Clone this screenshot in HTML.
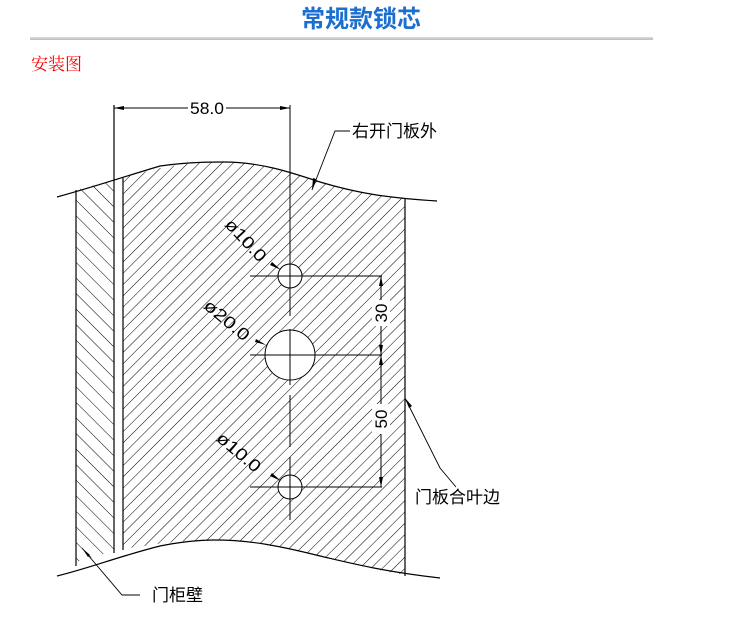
<!DOCTYPE html>
<html><head><meta charset="utf-8"><style>
body{margin:0;background:#fff;width:744px;height:615px;overflow:hidden;font-family:"Liberation Sans","Noto Sans CJK SC",sans-serif}
</style></head><body>
<svg width="744" height="615" viewBox="0 0 744 615" xmlns="http://www.w3.org/2000/svg">
<defs>
<pattern id="hd" patternUnits="userSpaceOnUse" width="8" height="8" patternTransform="rotate(45)">
<line x1="0" y1="0" x2="0" y2="8" stroke="#000" stroke-width="1"/></pattern>
<pattern id="hw" patternUnits="userSpaceOnUse" width="11" height="11" patternTransform="rotate(-45)">
<line x1="0" y1="0" x2="0" y2="11" stroke="#000" stroke-width="1"/></pattern>
<linearGradient id="g" x1="0" y1="0" x2="0" y2="1"><stop offset="0" stop-color="#ddd"/><stop offset="1" stop-color="#bbb"/></linearGradient>
</defs>
<text x="361" y="27" text-anchor="middle" font-size="24" font-weight="bold" fill="#1a6fd0" font-family="'Noto Sans CJK SC',sans-serif">常规款锁芯</text>
<rect x="30" y="37" width="623" height="3" fill="url(#g)"/>
<text x="31" y="70" font-size="17" fill="#f00" font-family="'Noto Serif CJK SC',serif">安装图</text>

<path d="M76 190 L114 180 L114 551 L76 562 Z" fill="url(#hw)"/>
<path d="M123 178 C160 166 190 162 224 162 C260 162 290 172 320 182 C360 194 390 197 405 198 L405 575 C380 571 350 563 320 556 C280 546 250 540 215 540 C180 540 150 545 123 549 Z" fill="url(#hd)"/>
<g stroke="#000" stroke-width="1.2" fill="none">
<path d="M57 197 C90 188 120 178 160 166 C190 162 210 162 224 162 C260 162 290 172 320 182 C360 194 390 198 437 201"/>
<path d="M57 576 C90 568 120 556 160 546 C185 541 200 540 215 540 C250 540 280 546 320 556 C350 563 380 571 440 578"/>
<line x1="76" y1="190" x2="76" y2="566"/>
<line x1="114" y1="105" x2="114" y2="553"/>
<line x1="123" y1="178" x2="123" y2="550"/>
<line x1="405" y1="198" x2="405" y2="576"/>
</g>
<g stroke="#000" stroke-width="1" fill="#fff">
<circle cx="290" cy="276" r="12"/>
<circle cx="290" cy="355" r="25"/>
<circle cx="290" cy="487" r="12"/>
</g>
<g stroke="#000" stroke-width="1">
<line x1="290" y1="105" x2="290" y2="316"/>
<line x1="290" y1="329" x2="290" y2="385"/>
<line x1="290" y1="395" x2="290" y2="447"/>
<line x1="290" y1="457" x2="290" y2="520"/>
<line x1="250" y1="276" x2="382" y2="276"/>
<line x1="250" y1="355" x2="382" y2="355"/>
<line x1="250" y1="487" x2="382" y2="487"/>
<line x1="381" y1="276" x2="381" y2="487"/>
<line x1="114" y1="108" x2="188" y2="108"/>
<line x1="226" y1="108" x2="290" y2="108"/>
</g>
<rect x="372" y="300" width="18" height="26" fill="#fff"/>
<rect x="372" y="404" width="18" height="30" fill="#fff"/>
<g fill="#000">
<path d="M114 108 l10 -2 v4z M290 108 l-10 -2 v4z"/>
<path d="M381 276 l-2 10 h4z M381 355 l-2 -10 h4z M381 355 l-2 10 h4z M381 487 l-2 -10 h4z"/>
<path d="M281 270 l-9 -8 l-2 3z M266 345 l-10 -6 l-1 3z M281 481 l-9 -8 l-2 3z"/>
<path d="M312 190 l1 -12 l3 1z M405 398 l4 10 l3 -2z M82 548 l6 9 l2 -2z"/>
</g>
<g font-size="17" fill="#000" font-family="'Liberation Sans Narrow','Liberation Sans',sans-serif">
<text x="207" y="114" text-anchor="middle" textLength="34" lengthAdjust="spacingAndGlyphs">58.0</text>
<text transform="translate(381 313) rotate(-90)" text-anchor="middle" y="6">30</text>
<text transform="translate(381 419) rotate(-90)" text-anchor="middle" y="6">50</text>
<text transform="translate(246 240) rotate(47)" text-anchor="middle" y="6" textLength="52" lengthAdjust="spacingAndGlyphs">ø10.0</text>
<text transform="translate(227 320) rotate(40)" text-anchor="middle" y="6" textLength="54" lengthAdjust="spacingAndGlyphs">ø20.0</text>
<text transform="translate(239 452) rotate(40)" text-anchor="middle" y="6" textLength="52" lengthAdjust="spacingAndGlyphs">ø10.0</text>
</g>
<g stroke="#000" stroke-width="0.9" fill="none">
<polyline points="350,131 335,131 312,190"/>
<polyline points="456,487 440,468 405,398"/>
<polyline points="140,595 122,595 82,548"/>
</g>
<g font-size="17" fill="#000" font-family="'Noto Sans CJK SC',sans-serif">
<text x="352" y="137">右开门板外</text>
<text x="415" y="503">门板合叶边</text>
<text x="152" y="601">门柜壁</text>
</g>
</svg>
</body></html>
